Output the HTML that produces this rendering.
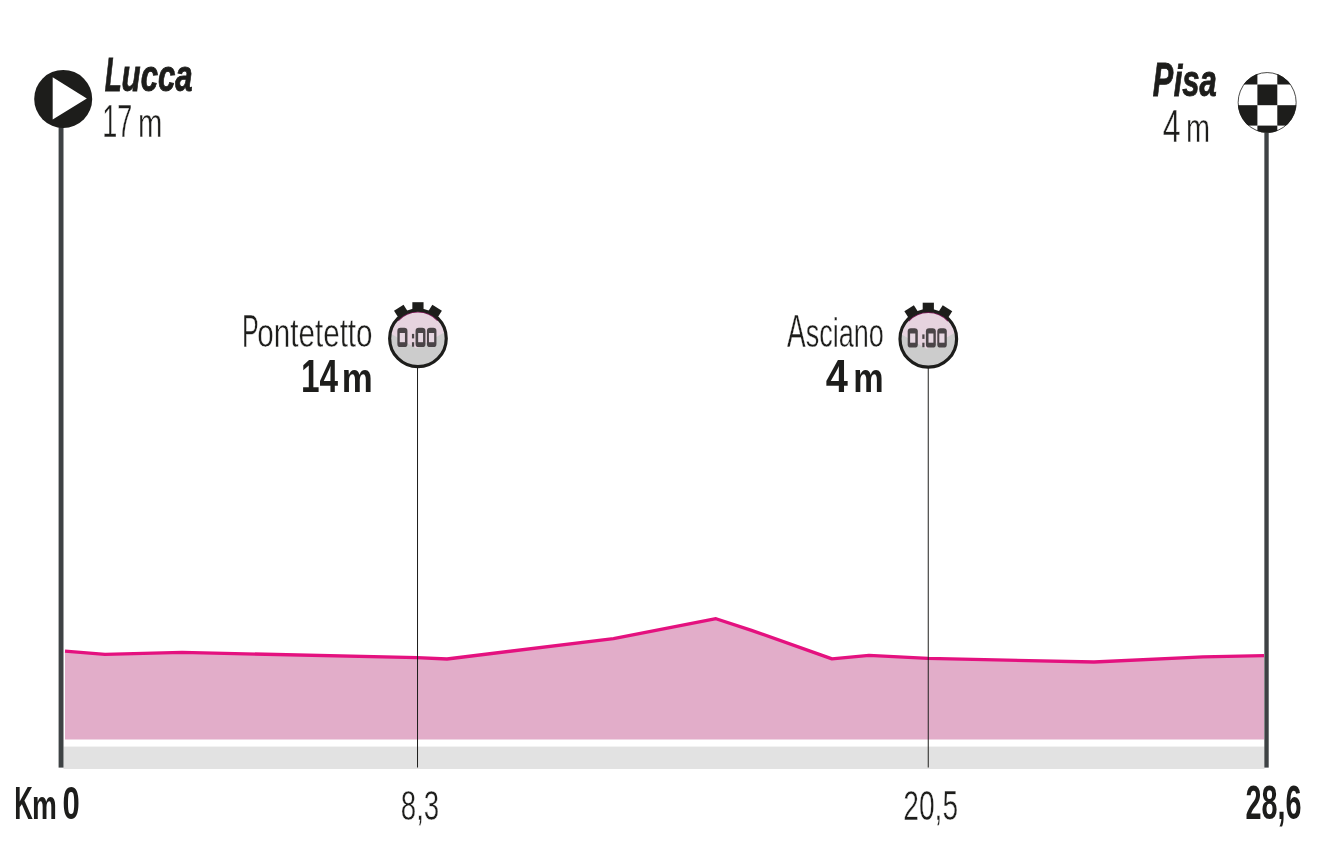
<!DOCTYPE html>
<html><head><meta charset="utf-8"><title>Lucca - Pisa</title>
<style>
html,body{margin:0;padding:0;background:#fff;width:1321px;height:848px;overflow:hidden}
svg{display:block}
text{font-family:"Liberation Sans",Arial,sans-serif}
</style></head><body>
<svg width="1321" height="848" viewBox="0 0 1321 848">
<rect width="1321" height="848" fill="#ffffff"/>
<polygon points="65,651.2 105,654.4 182,652.4 417,657.6 447,659 613.5,638.6 716,618.7 751.5,630.4 832,658.9 869,655.4 928,658.4 1094,662 1203,656.9 1264,655.6 1264,739.6 65,739.6" fill="#e2adc9"/>
<polyline points="65,651.2 105,654.4 182,652.4 417,657.6 447,659 613.5,638.6 716,618.7 751.5,630.4 832,658.9 869,655.4 928,658.4 1094,662 1203,656.9 1264,655.6" fill="none" stroke="#e4117f" stroke-width="3.3" stroke-linejoin="round"/>
<rect x="63.5" y="746.6" width="1201" height="22.4" fill="#e2e2e2"/>
<rect x="417.02" y="366" width="1.0" height="401.5" fill="#1d1d1b"/>
<rect x="927.75" y="366" width="0.98" height="401.5" fill="#1d1d1b"/>
<rect x="58.6" y="120" width="4.9" height="647.6" fill="#3e4244"/>
<rect x="1264.35" y="125" width="4.35" height="642.6" fill="#3e4244"/>
<circle cx="63.2" cy="98.9" r="29" fill="#1d1d1b"/>
<polygon points="52.7,77.3 86.8,98.4 52.7,119.5" fill="#ffffff"/>
<clipPath id="fc"><ellipse cx="1267.15" cy="102.5" rx="29.4" ry="30.35"/></clipPath>
<g clip-path="url(#fc)">
<rect x="1236" y="72" width="63" height="62" fill="#ffffff"/>
<rect x="1236" y="63.9" width="21.4" height="20.6" fill="#1d1d1b"/>
<rect x="1277.3" y="63.9" width="21.4" height="20.6" fill="#1d1d1b"/>
<rect x="1257.4" y="84.5" width="19.9" height="20.7" fill="#1d1d1b"/>
<rect x="1236" y="105.2" width="21.4" height="20.4" fill="#1d1d1b"/>
<rect x="1277.3" y="105.2" width="21.4" height="20.4" fill="#1d1d1b"/>
<rect x="1257.4" y="125.6" width="19.9" height="20.4" fill="#1d1d1b"/>
</g>
<ellipse cx="1267.15" cy="102.5" rx="29.0" ry="29.95" fill="none" stroke="#1d1d1b" stroke-width="0.8"/>
<rect x="412.35" y="302.20" width="11.2" height="9" fill="#1d1d1b" transform="rotate(-32 417.95 338.40)"/>
<rect x="412.35" y="302.20" width="11.2" height="9" fill="#1d1d1b"/>
<rect x="412.35" y="302.20" width="11.2" height="9" fill="#1d1d1b" transform="rotate(32 417.95 338.40)"/>
<circle cx="417.95" cy="338.40" r="28.30" fill="#cccccc"/>
<path d="M416.45,348.40 L390.13,333.20 A28.299999999999997,28.299999999999997 0 0 1 445.44,331.66 Z" fill="#e6d3df"/>
<path d="M398.26,320.67 A26.50,26.50 0 0 1 437.64,320.67" fill="none" stroke="#82195c" stroke-width="1.2"/>
<circle cx="417.95" cy="338.40" r="28.30" fill="none" stroke="#1d1d1b" stroke-width="3.2"/>
<rect x="397.35" y="327.80" width="10.10" height="19.3" rx="3.2" fill="#4a4447"/><rect x="399.75" y="333.00" width="5.20" height="9.2" fill="#e6d6e1"/>
<rect x="411.95" y="333.90" width="2.2" height="4.5" fill="#4a4447"/>
<rect x="411.95" y="342.20" width="2.2" height="4.5" fill="#4a4447"/>
<rect x="415.55" y="327.80" width="9.90" height="19.3" rx="3.2" fill="#4a4447"/><rect x="418.15" y="333.00" width="4.90" height="9.2" fill="#e6d6e1"/>
<rect x="426.95" y="327.80" width="9.50" height="19.3" rx="3.2" fill="#4a4447"/><rect x="428.95" y="333.00" width="5.20" height="9.2" fill="#e6d6e1"/>
<rect x="922.70" y="302.70" width="11.2" height="9" fill="#1d1d1b" transform="rotate(-32 928.30 338.90)"/>
<rect x="922.70" y="302.70" width="11.2" height="9" fill="#1d1d1b"/>
<rect x="922.70" y="302.70" width="11.2" height="9" fill="#1d1d1b" transform="rotate(32 928.30 338.90)"/>
<circle cx="928.30" cy="338.90" r="28.30" fill="#cccccc"/>
<path d="M926.80,348.90 L900.48,333.70 A28.299999999999997,28.299999999999997 0 0 1 955.79,332.16 Z" fill="#e6d3df"/>
<path d="M908.61,321.17 A26.50,26.50 0 0 1 947.99,321.17" fill="none" stroke="#82195c" stroke-width="1.2"/>
<circle cx="928.30" cy="338.90" r="28.30" fill="none" stroke="#1d1d1b" stroke-width="3.2"/>
<rect x="907.70" y="328.30" width="10.10" height="19.3" rx="3.2" fill="#4a4447"/><rect x="910.10" y="333.50" width="5.20" height="9.2" fill="#e6d6e1"/>
<rect x="922.30" y="334.40" width="2.2" height="4.5" fill="#4a4447"/>
<rect x="922.30" y="342.70" width="2.2" height="4.5" fill="#4a4447"/>
<rect x="925.90" y="328.30" width="9.90" height="19.3" rx="3.2" fill="#4a4447"/><rect x="928.50" y="333.50" width="4.90" height="9.2" fill="#e6d6e1"/>
<rect x="937.30" y="328.30" width="9.50" height="19.3" rx="3.2" fill="#4a4447"/><rect x="939.30" y="333.50" width="5.20" height="9.2" fill="#e6d6e1"/>
<text id="lucca" y="90.80" font-weight="bold" font-style="italic" fill="#1d1d1b" stroke="#1d1d1b" stroke-width="0.9"><tspan id="lucca_0" x="104.65" font-size="48.78" textLength="17.05" lengthAdjust="spacingAndGlyphs">L</tspan><tspan id="lucca_1" x="121.60" font-size="43.62" textLength="71.05" lengthAdjust="spacingAndGlyphs">ucca</tspan></text>
<text id="alt1" y="136.80" font-weight="normal" font-style="normal" fill="#1d1d1b" stroke="#ffffff" stroke-width="0.45"><tspan id="alt1_0" x="102.17" font-size="45.30" textLength="30.13" lengthAdjust="spacingAndGlyphs">17</tspan><tspan id="alt1_1" x="129.91" font-size="40.75" textLength="32.50" lengthAdjust="spacingAndGlyphs"> m</tspan></text>
<text id="pisa" y="95.80" font-weight="bold" font-style="italic" fill="#1d1d1b" stroke="#1d1d1b" stroke-width="0.9"><tspan id="pisa_0" x="1152.68" font-size="48.78" textLength="20.45" lengthAdjust="spacingAndGlyphs">P</tspan><tspan id="pisa_1" x="1173.71" font-size="44.86" textLength="43.14" lengthAdjust="spacingAndGlyphs">isa</tspan></text>
<text id="alt2" y="141.75" font-weight="normal" font-style="normal" fill="#1d1d1b" stroke="#ffffff" stroke-width="0.45"><tspan id="alt2_0" x="1162.63" font-size="45.60" textLength="17.83" lengthAdjust="spacingAndGlyphs">4</tspan><tspan id="alt2_1" x="1178.00" font-size="41.14" textLength="32.14" lengthAdjust="spacingAndGlyphs"> m</tspan></text>
<text id="pont" y="346.70" font-weight="normal" font-style="normal" fill="#1d1d1b" stroke="#ffffff" stroke-width="0.45"><tspan id="pont_0" x="241.96" font-size="46.98" textLength="16.69" lengthAdjust="spacingAndGlyphs">P</tspan><tspan id="pont_1" x="257.33" font-size="40.88" textLength="115.22" lengthAdjust="spacingAndGlyphs">ontetetto</tspan></text>
<text id="alt3" y="391.60" font-weight="bold" font-style="normal" fill="#1d1d1b"><tspan id="alt3_0" x="300.91" font-size="46.67" textLength="37.08" lengthAdjust="spacingAndGlyphs">14</tspan><tspan id="alt3_1" x="332.05" font-size="40.47" textLength="40.70" lengthAdjust="spacingAndGlyphs"> m</tspan></text>
<text id="asci" y="346.60" font-weight="normal" font-style="normal" fill="#1d1d1b" stroke="#ffffff" stroke-width="0.45"><tspan id="asci_0" x="787.01" font-size="46.50" textLength="18.65" lengthAdjust="spacingAndGlyphs">A</tspan><tspan id="asci_1" x="805.64" font-size="40.88" textLength="78.19" lengthAdjust="spacingAndGlyphs">sciano</tspan></text>
<text id="alt4" y="391.80" font-weight="bold" font-style="normal" fill="#1d1d1b"><tspan id="alt4_0" x="825.79" font-size="46.22" textLength="22.16" lengthAdjust="spacingAndGlyphs">4</tspan><tspan id="alt4_1" x="843.67" font-size="40.85" textLength="39.94" lengthAdjust="spacingAndGlyphs"> m</tspan></text>
<text id="km0" y="818.90" font-weight="bold" font-style="normal" fill="#1d1d1b"><tspan id="km0_0" x="14.27" font-size="46.04" textLength="18.62" lengthAdjust="spacingAndGlyphs">K</tspan><tspan id="km0_1" x="32.09" font-size="40.72" textLength="24.86" lengthAdjust="spacingAndGlyphs">m</tspan><tspan id="km0_2" x="53.84" font-size="45.68" textLength="25.84" lengthAdjust="spacingAndGlyphs"> 0</tspan></text>
<text id="km1" y="819.70" font-weight="normal" font-style="normal" fill="#1d1d1b" stroke="#ffffff" stroke-width="0.45"><tspan id="km1_0" x="400.80" font-size="42.81" textLength="38.47" lengthAdjust="spacingAndGlyphs">8,3</tspan></text>
<text id="km2" y="819.80" font-weight="normal" font-style="normal" fill="#1d1d1b" stroke="#ffffff" stroke-width="0.45"><tspan id="km2_0" x="903.34" font-size="41.72" textLength="54.69" lengthAdjust="spacingAndGlyphs">20,5</tspan></text>
<text id="km3" y="819.00" font-weight="bold" font-style="normal" fill="#1d1d1b"><tspan id="km3_0" x="1245.57" font-size="47.17" textLength="56.06" lengthAdjust="spacingAndGlyphs">28,6</tspan></text>
</svg>
</body></html>
